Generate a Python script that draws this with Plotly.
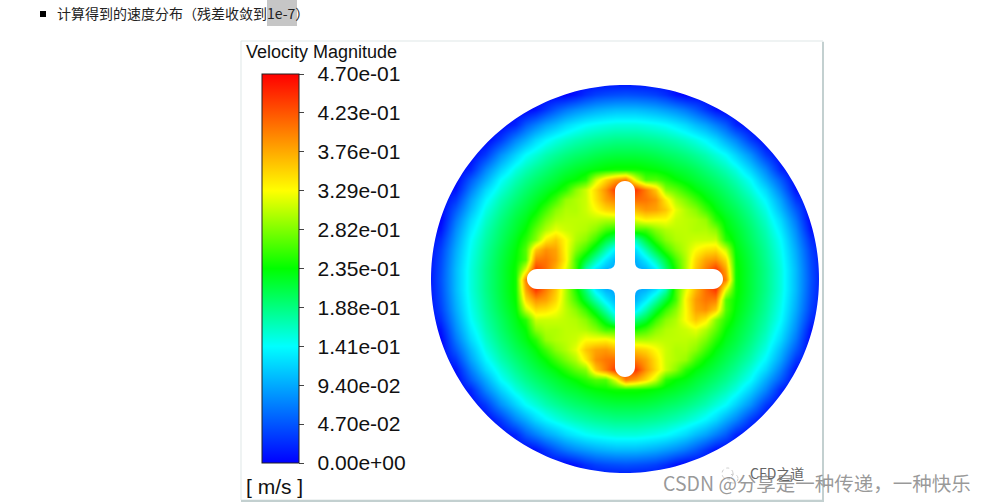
import plotly.graph_objects as go
import numpy as np

W, H = 990, 502
CX, CY = 625, 279          # centre of the rotor in the page
RADIUS = 194
BLADE_LEN, BLADE_W, FILLET = 98, 10, 7

# Velocity magnitude for one sector, the pattern repeats every 90 deg
x_coords = [10, 20, 30, 40, 50, 60, 70, 80, 90, 100, 110, 125, 140, 155, 170, 185, 200]
y_coords = [0, 10, 20, 30, 40, 50, 60, 70, 80, 90, 100, 110, 125, 140, 155, 170, 185, 200]
velocity = [
    [.10, .10, .13, .19, .245, .30, .36, .40, .44, .40, .24, .212, .185, .153, .104, .045, 0],
    [.09, .10, .13, .19, .245, .30, .36, .40, .44, .38, .24, .212, .185, .153, .104, .043, 0],
    [.10, .13, .17, .215, .26, .30, .35, .38, .39, .35, .237, .21, .182, .15, .10, .04, 0],
    [.125, .17, .215, .255, .285, .305, .33, .345, .35, .31, .232, .206, .179, .146, .095, .035, 0],
    [.17, .215, .255, .285, .30, .305, .31, .31, .31, .25, .226, .20, .174, .141, .087, .025, 0],
    [.26, .26, .285, .30, .305, .305, .30, .30, .285, .235, .22, .195, .168, .131, .078, .01, 0],
    [.32, .335, .33, .33, .31, .305, .30, .29, .25, .228, .212, .188, .16, .12, .066, 0, 0],
    [.37, .385, .38, .36, .32, .30, .285, .258, .232, .216, .203, .179, .15, .104, .05, 0, 0],
    [.41, .405, .39, .34, .30, .28, .258, .235, .22, .206, .192, .169, .137, .09, .03, 0, 0],
    [.44, .40, .36, .285, .27, .25, .232, .22, .208, .195, .181, .155, .12, .07, .01, 0, 0],
    [.32, .265, .265, .25, .236, .226, .216, .206, .195, .183, .168, .141, .096, .05, 0, 0, 0],
    [.24, .236, .232, .226, .218, .212, .203, .192, .181, .168, .152, .117, .074, .02, 0, 0, 0],
    [.212, .21, .206, .20, .195, .188, .179, .169, .155, .141, .117, .08, .032, 0, 0, 0, 0],
    [.185, .182, .179, .174, .168, .16, .15, .137, .12, .096, .074, .032, 0, 0, 0, 0, 0],
    [.153, .15, .146, .141, .131, .12, .104, .09, .07, .05, .02, 0, 0, 0, 0, 0, 0],
    [.104, .10, .095, .087, .078, .066, .05, .03, .01, 0, 0, 0, 0, 0, 0, 0, 0],
    [.043, .04, .035, .025, .01, 0, 0, 0, 0, 0, 0, 0, 0, 0, 0, 0, 0],
    [0, 0, 0, 0, 0, 0, 0, 0, 0, 0, 0, 0, 0, 0, 0, 0, 0],
]

tick_values = [0, .047, .094, .141, .188, .235, .282, .329, .376, .423, .47]
tick_labels = ["0.00e+00", "4.70e-02", "9.40e-02", "1.41e-01", "1.88e-01", "2.35e-01",
               "2.82e-01", "3.29e-01", "3.76e-01", "4.23e-01", "4.70e-01"]
rainbow = [[0, "#0000ff"], [.3, "#00ffff"], [.5, "#00ff00"], [.7, "#ffff00"], [1, "#ff0000"]]


def lookup(x, y):
    if x == 0 and y == 0:
        return 0.09
    while not (x > 0 and y >= 0):
        x, y = y, -x
    return velocity[y_coords.index(y)][x_coords.index(x)]


axis = [-v for v in reversed(x_coords)] + [0] + x_coords
field = [[lookup(x, y) for x in axis] for y in axis]


def fx(px):
    return px / W


def fy(py):
    return 1 - py / H


fig = go.Figure(go.Heatmap(
    x=axis, y=axis, z=field, zmin=0, zmax=.47, zsmooth="best", colorscale=rainbow,
    hoverinfo="skip",
    colorbar=dict(
        x=fx(262), xanchor="left", xpad=0, y=fy(463), yanchor="bottom", ypad=0,
        thickness=37, thicknessmode="pixels", len=389, lenmode="pixels",
        tickmode="array", tickvals=tick_values,
        ticktext=["\u00a0\u2006" + t for t in tick_labels],
        ticks="outside", ticklen=5, tickwidth=1, tickcolor="#444444",
        tickfont=dict(family="Liberation Sans", size=21, color="#111111"),
        outlinecolor="#222222", outlinewidth=1, borderwidth=0,
    ),
))

# white mask outside the circle (square with a circular hole, even-odd fill)
S = 212
theta = np.linspace(0, 2 * np.pi, 241)
ring = " ".join(("M" if i == 0 else "L") + f"{RADIUS*np.cos(t):.2f},{RADIUS*np.sin(t):.2f}"
                for i, t in enumerate(theta))
mask_path = f"M{-S},{-S} L{S},{-S} L{S},{S} L{-S},{S} Z {ring} Z"

# cross-shaped blades: one arm, turned four times
L, w, f = BLADE_LEN, BLADE_W, FILLET
k = 0.5523 * w
arm = [("C", [(-w, L - w + k), (-k, L), (0, L)]),
       ("C", [(k, L), (w, L - w + k), (w, L - w)]),
       ("L", [(w, w + f)]),
       ("Q", [(w, w), (w + f, w)])]
cross = [f"M{-w},{L - w}"]
for rot in range(4):
    for cmd, pts in arm:
        rp = []
        for (a, b) in pts:
            for _ in range(rot):
                a, b = b, -a
            rp.append(f"{a},{b}")
        cross.append(cmd + " ".join(rp))
    a, b = -w, L - w
    for _ in range(rot + 1):
        a, b = b, -a
    cross.append(f"L{a},{b}")
cross_path = " ".join(cross) + " Z"

shapes = [
    dict(type="path", path=mask_path, fillcolor="white", line=dict(width=0), fillrule="evenodd",
         xref="x", yref="y"),
    dict(type="path", path=cross_path, fillcolor="white", line=dict(width=0), xref="x", yref="y"),
    # panel frame and soft shadow
    dict(type="rect", xref="paper", yref="paper", x0=fx(241), x1=fx(823), y0=fy(500), y1=fy(41),
         line=dict(color="#dfe7e7", width=1)),
    dict(type="line", xref="paper", yref="paper", x0=fx(823), x1=fx(823), y0=fy(502), y1=fy(42),
         line=dict(color="#c3d0d0", width=2)),
    dict(type="line", xref="paper", yref="paper", x0=fx(241), x1=fx(824), y0=fy(501), y1=fy(501),
         line=dict(color="#c3d0d0", width=2)),
    # bullet and text highlight
    dict(type="rect", xref="paper", yref="paper", x0=fx(40), x1=fx(46), y0=fy(17), y1=fy(11),
         fillcolor="black", line=dict(width=0)),
    dict(type="rect", xref="paper", yref="paper", x0=fx(267), x1=fx(297), y0=fy(26), y1=fy(0),
         fillcolor="#c6c6c6", line=dict(width=0), layer="below"),
    # small watermark icon
    dict(type="circle", xref="paper", yref="paper", x0=fx(722), x1=fx(733), y0=fy(479), y1=fy(468),
         line=dict(color="#cccccc", width=1, dash="dot")),
    dict(type="circle", xref="paper", yref="paper", x0=fx(729), x1=fx(738), y0=fy(483), y1=fy(474),
         line=dict(color="#cccccc", width=1, dash="dot")),
]


def label(px, py, text, size, family="Liberation Sans", color="#111111"):
    return dict(xref="paper", yref="paper", x=fx(px), y=fy(py), text=text, showarrow=False,
                xanchor="left", yanchor="middle", align="left",
                font=dict(family=family, size=size, color=color))


cjk = "Noto Sans CJK SC"
annotations = [
    label(55, 13, "计算得到的速度分布（残差收敛到1e-7）", 14, cjk, "#222222"),
    label(244, 52, "Velocity Magnitude", 18),
    label(244, 486, "[ m/s ]", 21),
    label(748, 473, "CFD之道", 14, cjk, "#666666"),
    label(661, 482, "CSDN @分享是一种传递，一种快乐", 19.5, cjk, "rgba(120,120,120,0.75)"),
]

fig.update_layout(
    width=W, height=H, margin=dict(l=0, r=0, t=0, b=0), showlegend=False,
    paper_bgcolor="white", plot_bgcolor="white",
    xaxis=dict(range=[-CX, W - CX], visible=False, fixedrange=True),
    yaxis=dict(range=[CY - H, CY], visible=False, fixedrange=True),
    shapes=shapes, annotations=annotations,
)
fig.write_html("out.html", config={"displayModeBar": False},
               post_script="document.body.style.margin='0';document.body.style.overflow='hidden';")
